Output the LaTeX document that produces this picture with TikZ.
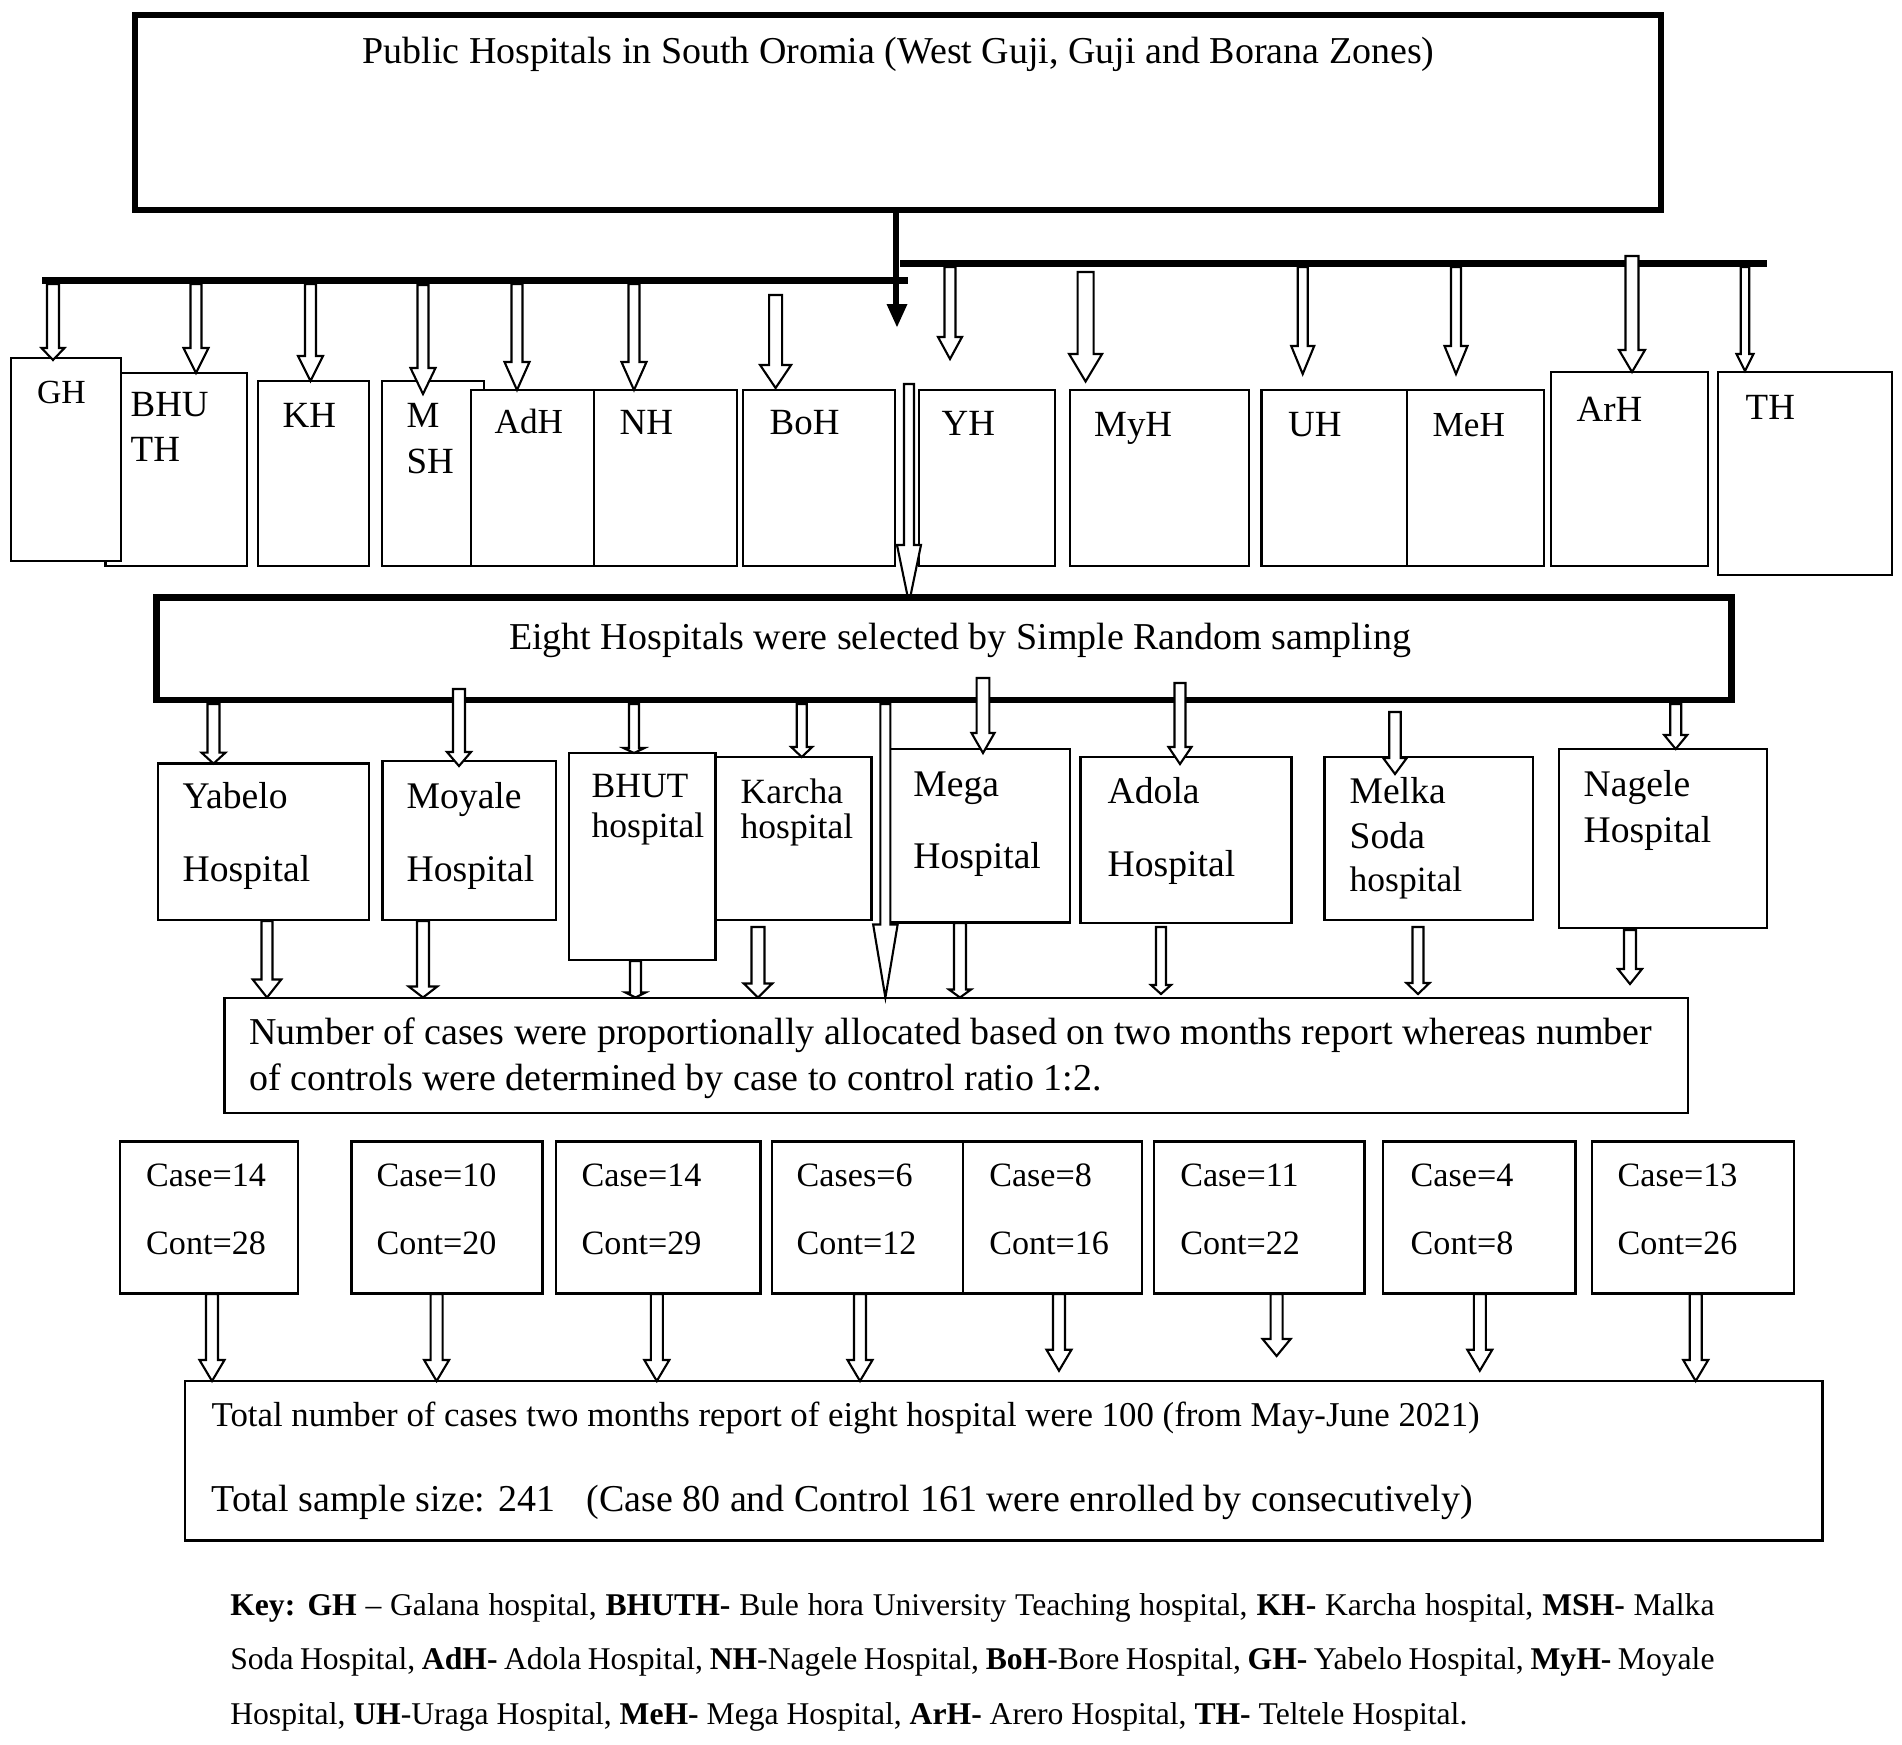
\documentclass[tikz,border=0pt]{standalone}
\usepackage{fontspec}
\setmainfont{Liberation Serif}
\usetikzlibrary{fit}
% hollow block arrow: x, ytop, ytip, shaft width, head width, head length
\newcommand\hollowarr[6]{\draw[harr] (#1-#4/2,#2) -- (#1-#4/2,#3-#6) -- (#1-#5/2,#3-#6) -- (#1,#3) -- (#1+#5/2,#3-#6) -- (#1+#4/2,#3-#6) -- (#1+#4/2,#2) -- cycle;}
\tikzset{
  box/.style={draw, line width=0.75pt, fill=white, inner sep=0pt},
  thickbox/.style={draw, line width=1.9pt, fill=white, inner sep=0pt},
  harr/.style={draw, fill=white, line width=0.6pt, line join=miter},
  lbl/.style={anchor=base west, inner sep=0pt},
  fTop/.style={font=\fontsize{10.8}{13}\selectfont},
  fOne/.style={font=\fontsize{10.5}{12}\selectfont},
  fTwo/.style={font=\fontsize{10.7}{12}\selectfont},
  fTwoS/.style={font=\fontsize{10.1}{12}\selectfont},
  fCase/.style={font=\fontsize{9.7}{12}\selectfont},
  fTot/.style={font=\fontsize{9.9}{12}\selectfont},
  fTotB/.style={font=\fontsize{10.8}{13}\selectfont},
  fKey/.style={font=\fontsize{9}{11}\selectfont},
}
\begin{document}
\begin{tikzpicture}[x=0.01cm, y=-0.01cm]
\useasboundingbox[fill=white] (0,0) rectangle (1902,1744);

% ---------- top box ----------
\node[thickbox, fit={(135,15) (1661,210)}] (top) {};
\node[fTop, anchor=base, inner sep=0pt] (toptxt) at (898.5,63) {Public Hospitals in South Oromia (West Guji, Guji and Borana Zones)};

% bars
\coordinate (barLa) at (42,280.5);
\coordinate (barLb) at (908,280.5);
\coordinate (barRa) at (900,263.5);
\coordinate (barRb) at (1767,263.5);
\draw[line width=2pt] (barLa) -- (barLb);
\draw[line width=2pt] (barRa) -- (barRb);
% stem with black arrow
\coordinate (stemEnd) at (896,305);
\draw[line width=1.6pt] (top.south -| stemEnd) -- (stemEnd);
\fill (886.5,304) -- (907.5,304) -- (897,327) -- cycle;

% ---------- row 1 boxes ----------
\node[box, fit={(105.5,373) (247,566)}] (BHUTH) {};
\node[box, fit={(11,358) (121,561)}] (GH) {};
\node[box, fit={(258,381) (369,566)}] (KH) {};
\node[box, fit={(382,381) (484,566)}] (MSH) {};
\node[box, fit={(471,390) (594,566)}] (AdH) {};
\node[box, fit={(594,390) (737,566)}] (NH) {};
\node[box, fit={(743,390) (895,566)}] (BoH) {};
\node[box, fit={(919,390) (1055,566)}] (YH) {};
\node[box, fit={(1070,390) (1249,566)}] (MyH) {};
\node[box, fit={(1261.5,390) (1407,566)}] (UH) {};
\node[box, fit={(1407,390) (1544,566)}] (MeH) {};
\node[box, fit={(1551,372) (1708,566)}] (ArH) {};
\node[box, fit={(1718,372) (1892,575)}] (TH) {};

\node[fOne, lbl, font=\fontsize{9.6}{12}\selectfont] (tGH) at (36.4,403) {GH};
\node[fOne, lbl] (tBHU) at (130,416) {BHU};
\node[fOne, lbl] (tTH1) at (130,461) {TH};
\node[fOne, lbl] (tKH) at (282,427) {KH};
\node[fOne, lbl] (tM) at (406,427) {M};
\node[fOne, lbl] (tSH) at (406,473) {SH};
\node[fOne, lbl, font=\fontsize{10}{12}\selectfont] (tAdH) at (494,433) {AdH};
\node[fOne, lbl] (tNH) at (619,434) {NH};
\node[fOne, lbl] (tBoH) at (769,434) {BoH};
\node[fOne, lbl] (tYH) at (941,435) {YH};
\node[fOne, lbl] (tMyH) at (1093.5,436) {MyH};
\node[fOne, lbl] (tUH) at (1287.5,436) {UH};
\node[fOne, lbl, font=\fontsize{10}{12}\selectfont] (tMeH) at (1432,436) {MeH};
\node[fOne, lbl] (tArH) at (1576,421) {ArH};
\node[fOne, lbl] (tTH) at (1745,419) {TH};

% row 1 arrows
\hollowarr{53}{284}{360}{12}{23}{12}
\hollowarr{196}{284}{373}{11}{25}{25}
\hollowarr{310.5}{284}{381}{11}{25}{25}
\hollowarr{423}{285}{394}{11}{25}{26}
\hollowarr{517}{284}{390}{11}{25}{28}
\hollowarr{634}{284}{390}{11}{25}{28}
\hollowarr{775.6}{295}{388}{13}{31}{23}
\hollowarr{950}{267}{359}{11}{24}{22}
\hollowarr{1085.6}{272}{381.5}{16}{33}{27.5}
\hollowarr{1302.7}{267}{374}{10}{23}{28}
\hollowarr{1456}{267}{374}{10}{23}{28}
\hollowarr{1632}{256}{372}{13}{26}{22}
\hollowarr{1745}{267}{371}{8.5}{17}{17}
% long arrow to selection box
\hollowarr{909}{384}{603}{10}{24}{58}

% ---------- selection box ----------
\node[thickbox, fit={(156.5,597.5) (1731.5,700)}] (sel) {};
\node[fTop, anchor=base, inner sep=0pt] (seltxt) at (960,649) {Eight Hospitals were selected by Simple Random sampling};

% ---------- row 2 boxes ----------
\node[box, fit={(158,763.6) (369,920)}] (Yab) {};
\node[box, fit={(382.6,761) (556,920)}] (Moy) {};
\node[box, fit={(569,753) (715.6,960)}] (BHUT) {};
\node[box, fit={(715.6,757) (871.4,920)}] (Kar) {};
\node[box, fit={(890,749) (1070,922.5)}] (Meg) {};
\node[box, fit={(1080.8,757) (1291.8,923)}] (Ado) {};
\node[box, fit={(1324.6,757) (1533,920)}] (Mel) {};
\node[box, fit={(1559,749) (1767,928)}] (Nag) {};

\node[fTwo, lbl] (tYab1) at (182,808) {Yabelo};
\node[fTwo, lbl] (tYab2) at (182,881) {Hospital};
\node[fTwo, lbl] (tMoy1) at (406,808) {Moyale};
\node[fTwo, lbl] (tMoy2) at (406,881) {Hospital};
\node[fTwoS, lbl] (tBHUT1) at (591,797.5) {BHUT};
\node[fTwoS, lbl] (tBHUT2) at (591,837) {hospital};
\node[fTwoS, lbl] (tKar1) at (740,803) {Karcha};
\node[fTwoS, lbl] (tKar2) at (740,838) {hospital};
\node[fTwo, lbl] (tMeg1) at (912.7,796) {Mega};
\node[fTwo, lbl] (tMeg2) at (912.7,868) {Hospital};
\node[fTwo, lbl] (tAdo1) at (1107,803) {Adola};
\node[fTwo, lbl] (tAdo2) at (1107,876) {Hospital};
\node[fTwo, lbl] (tMel1) at (1349,803) {Melka};
\node[fTwo, lbl] (tMel2) at (1349,848.6) {Soda};
\node[fTwoS, lbl] (tMel3) at (1349,891) {hospital};
\node[fTwo, lbl] (tNag1) at (1583,796) {Nagele};
\node[fTwo, lbl] (tNag2) at (1583,842) {Hospital};

% arrows selection -> row 2
\hollowarr{213.5}{704}{763.6}{12}{24}{11}
\hollowarr{459}{689}{766}{12}{24}{14}
\hollowarr{634}{704}{753}{10}{21}{5}
\hollowarr{801.7}{704}{757}{10}{21}{10}
\hollowarr{983}{678}{753}{12.7}{23}{20}
\hollowarr{1180}{683}{764}{11}{23}{17}
\hollowarr{1395}{712}{774}{11.5}{23.6}{16}
\hollowarr{1675.7}{704}{749}{11}{23}{14}

% ---------- allocation box ----------
\node[box, fit={(224.4,998) (1688,1113)}] (alloc) {};
\node[fTop, lbl] (alloc1) at (248.6,1044) {Number of cases were proportionally allocated based on two months report whereas number};
\node[fTop, lbl] (alloc2) at (248.6,1090) {of controls were determined by case to control ratio 1:2.};

% long arrow selection -> allocation
\hollowarr{885.4}{704}{997.5}{10}{24.5}{73}

% arrows row 2 -> allocation
\hollowarr{267}{921}{997.5}{11}{28.5}{18}
\hollowarr{423}{921}{997.5}{12}{28.5}{11}
\hollowarr{635.5}{961}{997.5}{11}{20}{5}
\hollowarr{758}{927}{997.5}{13}{28.5}{14}
\hollowarr{960}{923}{997.5}{12}{22}{8}
\hollowarr{1161}{927}{994}{10}{20}{9}
\hollowarr{1418}{927}{994}{11}{23}{11}
\hollowarr{1630}{930}{984}{12}{24}{15}

% ---------- case boxes ----------
\node[box, fit={(120,1141.7) (298,1293.3)}] (c1) {};
\node[box, fit={(351.7,1141.7) (542.8,1293.3)}] (c2) {};
\node[box, fit={(556,1141.7) (760.5,1293.3)}] (c3) {};
\node[box, fit={(772,1141.7) (963,1293.3)}] (c4) {};
\node[box, fit={(963,1141.7) (1142,1293.3)}] (c5) {};
\node[box, fit={(1154,1141.7) (1364.6,1293.3)}] (c6) {};
\node[box, fit={(1383,1141.7) (1575.6,1293.3)}] (c7) {};
\node[box, fit={(1592,1141.7) (1794,1293.3)}] (c8) {};

\node[fCase, lbl] (tc1a) at (145.5,1186) {Case=14};
\node[fCase, lbl] (tc1b) at (145.5,1254) {Cont=28};
\node[fCase, lbl] (tc2a) at (376,1186) {Case=10};
\node[fCase, lbl] (tc2b) at (376,1254) {Cont=20};
\node[fCase, lbl] (tc3a) at (581,1186) {Case=14};
\node[fCase, lbl] (tc3b) at (581,1254) {Cont=29};
\node[fCase, lbl] (tc4a) at (796,1186) {Cases=6};
\node[fCase, lbl] (tc4b) at (796,1254) {Cont=12};
\node[fCase, lbl] (tc5a) at (988.6,1186) {Case=8};
\node[fCase, lbl] (tc5b) at (988.6,1254) {Cont=16};
\node[fCase, lbl] (tc6a) at (1179.6,1186) {Case=11};
\node[fCase, lbl] (tc6b) at (1179.6,1254) {Cont=22};
\node[fCase, lbl] (tc7a) at (1410,1186) {Case=4};
\node[fCase, lbl] (tc7b) at (1410,1254) {Cont=8};
\node[fCase, lbl] (tc8a) at (1617,1186) {Case=13};
\node[fCase, lbl] (tc8b) at (1617,1254) {Cont=26};

% ---------- total box ----------
\node[box, fit={(185,1381) (1822.4,1540.7)}] (total) {};
\node[fTot, lbl] (tot1) at (211,1426.7) {Total number of cases two months report of eight hospital were 100 (from May-June 2021)};
\node[fTotB, lbl] (tot2) at (211,1511.7) {Total sample size: 241\hspace*{9pt}(Case 80 and Control 161 were enrolled by consecutively)};

% arrows case -> total
\hollowarr{212}{1294}{1381}{12}{25}{21}
\hollowarr{436.6}{1294}{1381}{12}{25}{21}
\hollowarr{656.8}{1294}{1381}{12}{25}{21}
\hollowarr{860}{1294}{1381}{12}{25}{21}
\hollowarr{1059}{1294}{1370.7}{12}{25}{21}
\hollowarr{1276.6}{1294}{1356}{12}{28}{17}
\hollowarr{1479.8}{1294}{1370.7}{12}{25}{21}
\hollowarr{1695.7}{1294}{1381}{12}{25}{21}

% ---------- key ----------
\node[fKey, lbl] (key1) at (229.6,1615) {\makebox[14.834cm][s]{\textbf{Key:} \textbf{GH} – Galana hospital, \textbf{BHUTH-} Bule hora University Teaching hospital, \textbf{KH-} Karcha hospital, \textbf{MSH-} Malka}};
\node[fKey, lbl] (key2) at (229.6,1669) {\makebox[14.834cm][s]{Soda Hospital, \textbf{AdH-} Adola Hospital, \textbf{NH}-Nagele Hospital, \textbf{BoH}-Bore Hospital, \textbf{GH-} Yabelo Hospital, \textbf{MyH-} Moyale}};
\node[fKey, lbl] (key3) at (229.6,1724) {Hospital, \textbf{UH}-Uraga Hospital, \textbf{MeH-} Mega Hospital, \textbf{ArH-} Arero Hospital, \textbf{TH-} Teltele Hospital.};
\end{tikzpicture}
\end{document}
